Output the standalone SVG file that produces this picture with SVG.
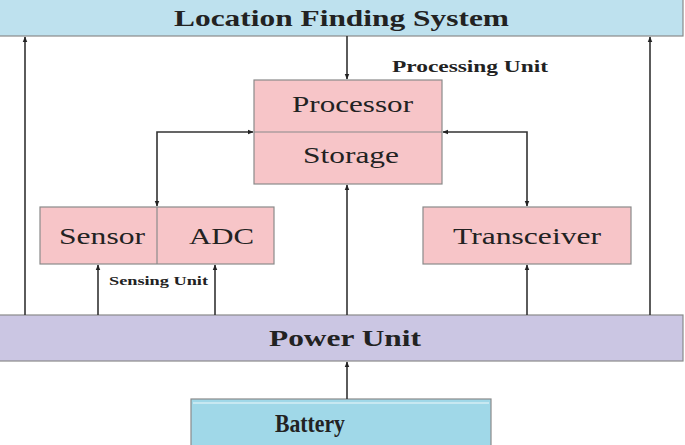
<svg xmlns="http://www.w3.org/2000/svg" width="685" height="445" viewBox="0 0 685 445">
<style>
.t{font-family:"Liberation Serif","Times New Roman",serif;fill:#222}
.b{font-weight:bold}
.pink{fill:#f7c5c8;stroke:#8a8a8a;stroke-width:1.2}
.ln{stroke:#333;stroke-width:1.6;fill:none}
</style>
<defs>
<marker id="ah" viewBox="0 0 10 10" refX="9" refY="5" markerWidth="6" markerHeight="6" orient="auto-start-reverse" markerUnits="userSpaceOnUse">
<path d="M0,1 L10,5 L0,9 Z" fill="#222"/>
</marker>
</defs>
<rect width="685" height="445" fill="#fff"/>
<g id="location">
<rect x="-1" y="-1" width="684" height="37" fill="#bee1ee" stroke="#8a8a8a" stroke-width="1.2"/>
<text class="t b" x="174" y="26" font-size="23" textLength="335" lengthAdjust="spacingAndGlyphs">Location Finding System</text>
</g>
<g id="processing">
<rect class="pink" x="254" y="80" width="188" height="104"/>
<line x1="254" y1="132" x2="442" y2="132" stroke="#8a8a8a" stroke-width="1.2"/>
<text class="t" x="292" y="112" font-size="23" textLength="121" lengthAdjust="spacingAndGlyphs">Processor</text>
<text class="t" x="303" y="163" font-size="23" textLength="96" lengthAdjust="spacingAndGlyphs">Storage</text>
<text class="t b" x="392" y="72" font-size="16" textLength="156" lengthAdjust="spacingAndGlyphs">Processing Unit</text>
</g>
<g id="sensing">
<rect class="pink" x="40" y="207" width="234" height="57"/>
<line x1="157" y1="207" x2="157" y2="264" stroke="#8a8a8a" stroke-width="1.2"/>
<text class="t" x="59" y="244" font-size="23" textLength="86" lengthAdjust="spacingAndGlyphs">Sensor</text>
<text class="t" x="189" y="244" font-size="23" textLength="65" lengthAdjust="spacingAndGlyphs">ADC</text>
<text class="t b" x="109" y="285" font-size="13.5" textLength="99" lengthAdjust="spacingAndGlyphs">Sensing Unit</text>
</g>
<g id="transceiver">
<rect class="pink" x="423" y="207" width="208" height="57"/>
<text class="t" x="453" y="244" font-size="23" textLength="148" lengthAdjust="spacingAndGlyphs">Transceiver</text>
</g>
<g id="power">
<rect x="-1" y="315" width="684" height="46" fill="#cbc6e3" stroke="#8a8a8a" stroke-width="1.2"/>
<text class="t b" x="269" y="346" font-size="24" textLength="152" lengthAdjust="spacingAndGlyphs">Power Unit</text>
</g>
<g id="battery">
<rect x="191" y="399" width="300" height="50" fill="#a0d8e8" stroke="#8a8a8a" stroke-width="1.2"/>
<line x1="193" y1="403" x2="489" y2="403" stroke="#d4eef5" stroke-width="1.5"/>
<text class="t b" x="275" y="432" font-size="25" textLength="70" lengthAdjust="spacingAndGlyphs">Battery</text>
</g>
<g id="connectors">
<line class="ln" x1="347" y1="36" x2="347" y2="79" marker-end="url(#ah)"/>
<line class="ln" x1="25" y1="315" x2="25" y2="37" marker-end="url(#ah)"/>
<line class="ln" x1="650" y1="315" x2="650" y2="37" marker-end="url(#ah)"/>
<path class="ln" d="M157,206 L157,132 L253,132" marker-start="url(#ah)" marker-end="url(#ah)"/>
<path class="ln" d="M443,132 L527,132 L527,206" marker-start="url(#ah)" marker-end="url(#ah)"/>
<line class="ln" x1="98" y1="315" x2="98" y2="265" marker-end="url(#ah)"/>
<line class="ln" x1="215" y1="315" x2="215" y2="265" marker-end="url(#ah)"/>
<line class="ln" x1="347" y1="315" x2="347" y2="185" marker-end="url(#ah)"/>
<line class="ln" x1="527" y1="315" x2="527" y2="265" marker-end="url(#ah)"/>
<line class="ln" x1="347" y1="399" x2="347" y2="362" marker-end="url(#ah)"/>
</g>
</svg>
